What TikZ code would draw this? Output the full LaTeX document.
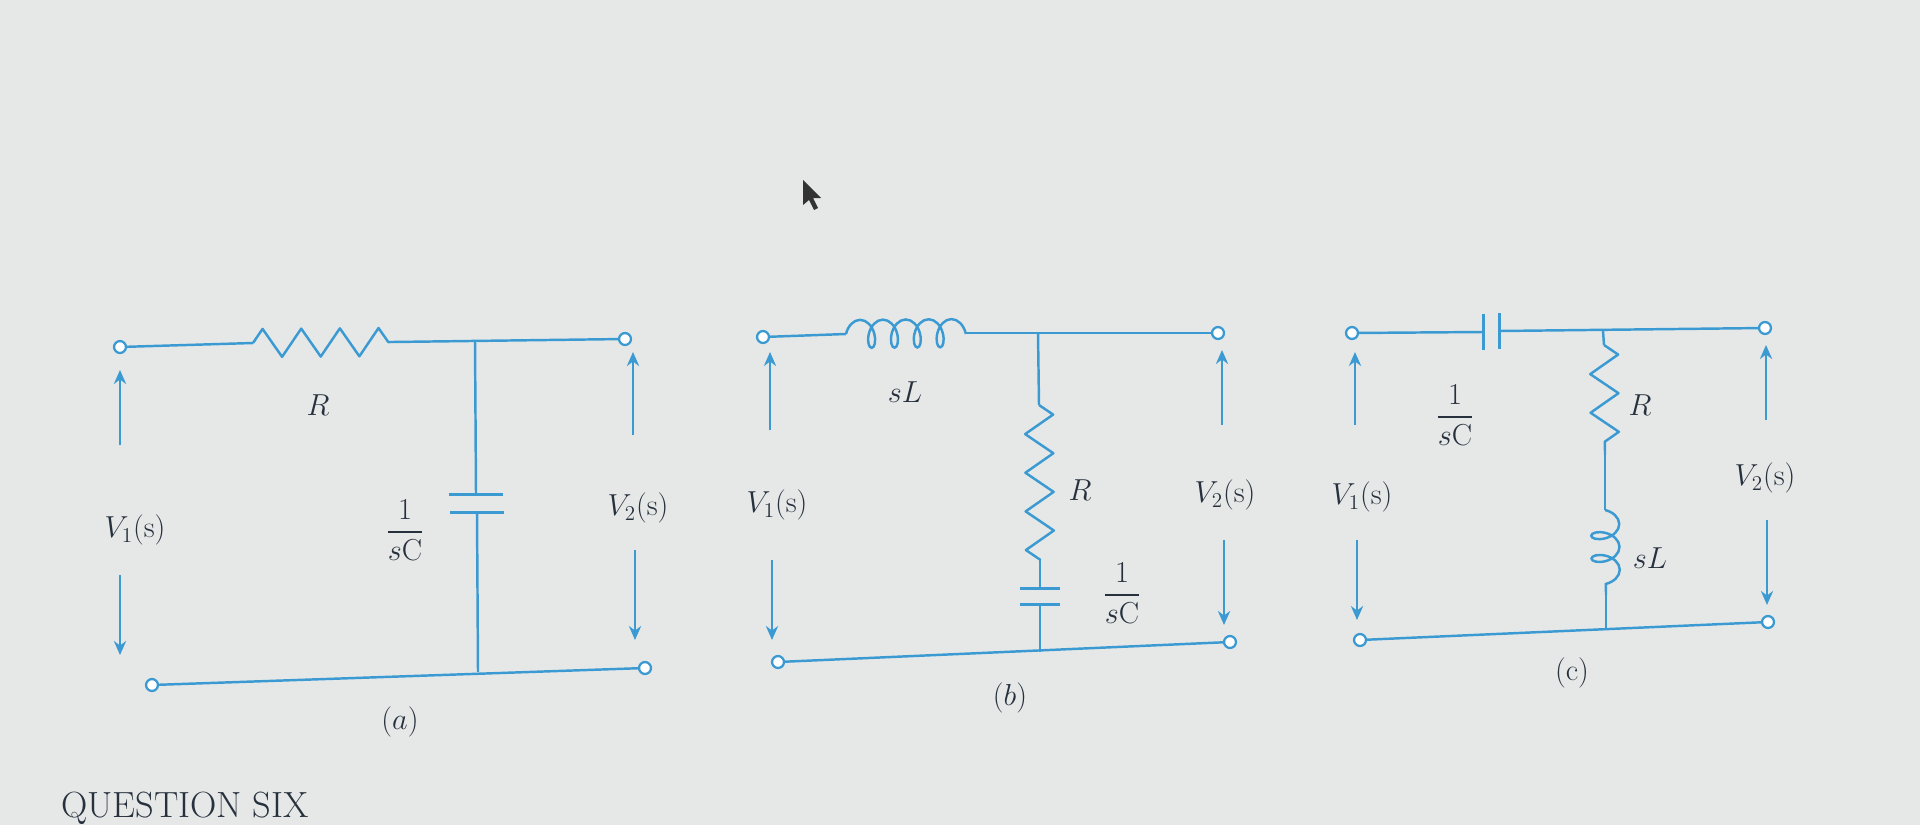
\documentclass[tikz,border=0pt]{standalone}
\usepackage{amsmath}
\usetikzlibrary{decorations.pathmorphing,arrows.meta,calc}
\begin{document}
\begin{tikzpicture}[x=0.02cm,y=-0.02cm,
  wire/.style={draw=wireblue,line width=1.4pt},
  res/.style={wire,line join=round,decorate,decoration={zigzag,segment length=22,amplitude=8}},
  ind/.style={wire,decorate,decoration={coil,aspect=0.6,segment length=13,amplitude=8}},
  plate/.style={draw=wireblue,line width=1.7pt},
  term/.style={circle,draw=wireblue,line width=1.3pt,fill=white,inner sep=2.4pt},
  varr/.style={wire,line width=1.1pt,-{Stealth[length=8pt,width=7pt]}},
  lbl/.style={text=txtcol,font=\LARGE},
  every node/.style={text=txtcol}]
\definecolor{wireblue}{HTML}{3C9AD2}
\definecolor{txtcol}{HTML}{27313D}
\definecolor{bg}{HTML}{E6E8E8}
\fill[bg] (0,0) rectangle (1920,825);
\useasboundingbox (0,0) rectangle (1920,825);
% cursor
\fill[black!80] (803,180) -- (803,205) -- (809,200) -- (814,210) -- (818,208) -- (813,198) -- (821,198) -- cycle;
% ===== (a)
\node[term] (a1) at (120,347) {};
\node[term] (a2) at (625,339) {};
\node[term] (a3) at (152,685) {};
\node[term] (a4) at (645,668) {};
\coordinate (ar1) at (253,343); \coordinate (ar2) at (392,342);
\coordinate (at) at (475,341); \coordinate (ab) at (478,672);
\coordinate (ac1) at (476,494); \coordinate (ac2) at (477,512);
\draw[wire] (a1) -- (ar1); \draw[res] (ar1) -- (ar2); \draw[wire] (ar2) -- (a2);
\draw[wire] (a3) -- (a4);
\draw[wire] (at) -- (ac1); \draw[wire] (ac2) -- (ab);
\draw[plate] ($(ac1)+(-27,0)$) -- ($(ac1)+(27,0)$);
\draw[plate] ($(ac2)+(-27,0)$) -- ($(ac2)+(27,0)$);
\node[lbl] (aR) at (318,405) {$R$};
\node[lbl] (aC) at (405,530) {$\dfrac{1}{s\mathrm{C}}$};
\node[lbl] (aV1) at (135,530) {$V_1(\mathrm{s})$};
\node[lbl] (aV2) at (638,508) {$V_2(\mathrm{s})$};
\draw[varr] (120,445) -- (120,370);
\draw[varr] (120,575) -- (120,655);
\draw[varr] (633,435) -- (633,352);
\draw[varr] (635,550) -- (635,640);
\node[lbl] (al) at (400,722) {$(a)$};
% ===== (b)
\node[term] (b1) at (763,337) {};
\node[term] (b2) at (1218,333) {};
\node[term] (b3) at (778,662) {};
\node[term] (b4) at (1230,642) {};
\coordinate (bl1) at (846,334); \coordinate (bl2) at (966,333);
\draw[wire] (b1) -- (bl1); \draw[ind] (bl1) -- (bl2); \draw[wire] (bl2) -- (b2);
\draw[wire] (b3) -- (b4);
\coordinate (bt) at (1038,333); \coordinate (br1) at (1039,405); \coordinate (br2) at (1040,560);
\coordinate (bc1) at (1040,588); \coordinate (bc2) at (1040,604); \coordinate (bb) at (1040,652);
\draw[wire] (bt) -- (br1); \draw[res] (br1) -- (br2); \draw[wire] (br2) -- (bc1);
\draw[wire] (bc2) -- (bb);
\draw[plate] ($(bc1)+(-20,0)$) -- ($(bc1)+(20,0)$);
\draw[plate] ($(bc2)+(-20,0)$) -- ($(bc2)+(20,0)$);
\node[lbl] (bL) at (905,392) {$sL$};
\node[lbl] (bR) at (1080,490) {$R$};
\node[lbl] (bC) at (1122,593) {$\dfrac{1}{s\mathrm{C}}$};
\node[lbl] (bV1) at (777,505) {$V_1(\mathrm{s})$};
\node[lbl] (bV2) at (1225,495) {$V_2(\mathrm{s})$};
\draw[varr] (770,430) -- (770,352);
\draw[varr] (772,560) -- (772,640);
\draw[varr] (1222,425) -- (1222,350);
\draw[varr] (1224,540) -- (1224,625);
\node[lbl] (bl) at (1010,698) {$(b)$};
% ===== (c)
\node[term] (c1) at (1352,333) {};
\node[term] (c2) at (1765,328) {};
\node[term] (c3) at (1360,640) {};
\node[term] (c4) at (1768,622) {};
\coordinate (cc1) at (1483,332); \coordinate (cc2) at (1499,331);
\draw[wire] (c1) -- (cc1); \draw[wire] (cc2) -- (c2);
\draw[plate] ($(cc1)+(0,-18)$) -- ($(cc1)+(0,18)$);
\draw[plate] ($(cc2)+(0,-18)$) -- ($(cc2)+(0,18)$);
\draw[wire] (c3) -- (c4);
\coordinate (ct) at (1603,331); \coordinate (cr1) at (1604,345); \coordinate (cr2) at (1605,455);
\coordinate (ci1) at (1605,510); \coordinate (ci2) at (1606,595); \coordinate (cb) at (1606,630);
\draw[wire] (ct) -- (cr1); \draw[res] (cr1) -- (cr2); \draw[wire] (cr2) -- (ci1);
\draw[ind] (ci1) -- (ci2); \draw[wire] (ci2) -- (cb);
\node[lbl] (cC) at (1455,415) {$\dfrac{1}{s\mathrm{C}}$};
\node[lbl] (cR) at (1640,405) {$R$};
\node[lbl] (cL) at (1650,558) {$sL$};
\node[lbl] (cV1) at (1362,497) {$V_1(\mathrm{s})$};
\node[lbl] (cV2) at (1765,478) {$V_2(\mathrm{s})$};
\draw[varr] (1355,425) -- (1355,352);
\draw[varr] (1357,540) -- (1357,620);
\draw[varr] (1766,420) -- (1766,345);
\draw[varr] (1767,520) -- (1767,605);
\node[lbl] (cl) at (1572,673) {$(\mathrm{c})$};
% footer
\node[anchor=west,text=txtcol,font=\huge] (q) at (55,808) {QUESTION SIX};
\end{tikzpicture}
\end{document}
